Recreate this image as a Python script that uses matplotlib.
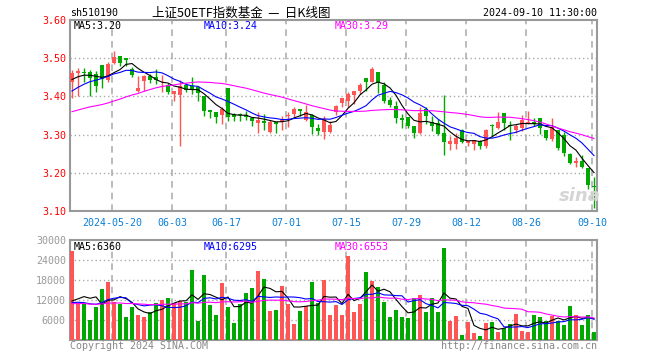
import numpy as np
import matplotlib
matplotlib.use("Agg")
import matplotlib.pyplot as plt

W, H = 660, 360

# daily OHLC, 2024-05-09 .. 2024-09-10 (88 sessions)
open_ = [3.439, 3.461, 3.463, 3.463, 3.459, 3.482, 3.444, 3.488, 3.506, 3.501,
         3.472, 3.415, 3.441, 3.453, 3.450, 3.421, 3.431, 3.406, 3.404, 3.431,
         3.428, 3.424, 3.400, 3.364, 3.359, 3.352, 3.422, 3.351, 3.355, 3.352,
         3.343, 3.330, 3.336, 3.306, 3.332, 3.334, 3.349, 3.354, 3.367, 3.339,
         3.351, 3.318, 3.308, 3.306, 3.360, 3.382, 3.389, 3.404, 3.415, 3.448,
         3.439, 3.463, 3.430, 3.390, 3.374, 3.343, 3.345, 3.323, 3.303, 3.368,
         3.334, 3.330, 3.304, 3.276, 3.275, 3.311, 3.279, 3.276, 3.283, 3.270,
         3.325, 3.318, 3.356, 3.324, 3.313, 3.318, 3.327, 3.332, 3.343, 3.311,
         3.289, 3.311, 3.300, 3.248, 3.225, 3.232, 3.213, 3.165]
high = [3.468, 3.475, 3.475, 3.468, 3.466, 3.482, 3.489, 3.518, 3.506, 3.501,
        3.476, 3.453, 3.457, 3.459, 3.472, 3.457, 3.434, 3.415, 3.443, 3.435,
        3.452, 3.428, 3.402, 3.364, 3.359, 3.371, 3.422, 3.356, 3.356, 3.362,
        3.343, 3.358, 3.354, 3.338, 3.332, 3.349, 3.358, 3.371, 3.367, 3.378,
        3.354, 3.327, 3.349, 3.335, 3.378, 3.397, 3.411, 3.413, 3.435, 3.448,
        3.478, 3.463, 3.437, 3.398, 3.389, 3.355, 3.345, 3.323, 3.372, 3.371,
        3.349, 3.340, 3.404, 3.296, 3.303, 3.314, 3.287, 3.286, 3.287, 3.314,
        3.329, 3.360, 3.356, 3.336, 3.327, 3.351, 3.362, 3.343, 3.343, 3.311,
        3.343, 3.311, 3.306, 3.252, 3.241, 3.246, 3.213, 3.189]
low = [3.397, 3.402, 3.439, 3.402, 3.412, 3.421, 3.437, 3.485, 3.479, 3.479,
       3.450, 3.412, 3.415, 3.434, 3.432, 3.412, 3.406, 3.389, 3.270, 3.411,
       3.406, 3.387, 3.349, 3.343, 3.330, 3.327, 3.336, 3.336, 3.336, 3.338,
       3.323, 3.304, 3.313, 3.304, 3.303, 3.311, 3.320, 3.346, 3.349, 3.336,
       3.301, 3.300, 3.288, 3.303, 3.351, 3.373, 3.373, 3.380, 3.406, 3.415,
       3.437, 3.409, 3.384, 3.372, 3.330, 3.318, 3.318, 3.292, 3.301, 3.327,
       3.310, 3.299, 3.246, 3.259, 3.262, 3.279, 3.269, 3.259, 3.262, 3.265,
       3.297, 3.314, 3.312, 3.287, 3.305, 3.309, 3.327, 3.323, 3.301, 3.285,
       3.283, 3.259, 3.244, 3.222, 3.215, 3.213, 3.158, 3.108]
close = [3.461, 3.466, 3.461, 3.448, 3.428, 3.446, 3.485, 3.504, 3.488, 3.496,
         3.457, 3.422, 3.454, 3.444, 3.444, 3.422, 3.411, 3.415, 3.428, 3.418,
         3.418, 3.409, 3.362, 3.359, 3.345, 3.367, 3.345, 3.345, 3.351, 3.347,
         3.336, 3.338, 3.330, 3.334, 3.329, 3.338, 3.350, 3.367, 3.362, 3.359,
         3.320, 3.310, 3.341, 3.326, 3.375, 3.397, 3.405, 3.413, 3.430, 3.439,
         3.472, 3.434, 3.389, 3.377, 3.343, 3.339, 3.323, 3.305, 3.357, 3.349,
         3.323, 3.301, 3.281, 3.283, 3.290, 3.281, 3.283, 3.285, 3.270, 3.311,
         3.322, 3.334, 3.330, 3.322, 3.322, 3.338, 3.332, 3.329, 3.318, 3.290,
         3.321, 3.265, 3.253, 3.225, 3.232, 3.215, 3.169, 3.162]
volume = [26700, 11200, 10900, 6000, 9900, 15400, 17400, 11500, 10800, 7000,
          9900, 7500, 6900, 8400, 11200, 12000, 12600, 11000, 11700, 11500,
          21000, 5700, 19500, 10500, 7500, 17100, 9900, 5000, 10700, 14100,
          15600, 20700, 18300, 8700, 9000, 16200, 10800, 4800, 8700, 10200,
          17400, 11200, 17900, 7500, 10500, 7500, 25200, 8400, 10800, 20400,
          17700, 15900, 11400, 6900, 9000, 6900, 6600, 12600, 13500, 8400,
          12600, 8400, 27600, 5700, 7200, 1500, 5400, 2100, 1200, 5000,
          5400, 2400, 3600, 4700, 7800, 2700, 2400, 7500, 6900, 5700,
          7200, 5700, 4600, 10200, 7500, 4500, 7500, 2400]

# sessions before the window (estimated from where the MA lines start)
warm_close = [3.34, 3.33, 3.33, 3.34, 3.35, 3.36, 3.35,
              3.34, 3.32, 3.31, 3.30, 3.29, 3.30, 3.31, 3.32, 3.34, 3.36,
              3.35, 3.36, 3.36, 3.37, 3.38, 3.38, 3.39, 3.40, 3.43,
              3.44, 3.45, 3.44]
warm_volume = [11000, 9500, 12500, 10000, 13000, 9000, 11500, 10500, 12000, 9500,
               11000, 10000, 12500, 9000, 11500, 10500, 11000, 9500, 10500, 11000,
               10000, 12000, 9500, 11500, 10500,
               8000, 7500, 8500, 7800]

tick_index = [7, 17, 26, 36, 46, 56, 66, 76, 87]
tick_labels = ["2024-05-20", "06-03", "06-17", "07-01", "07-15",
               "07-29", "08-12", "08-26", "09-10"]

price_ticks = [3.10, 3.20, 3.30, 3.40, 3.50, 3.60]
vol_ticks = [6000, 12000, 18000, 24000, 30000]

RED = "#ff5555"
GREEN = "#00a800"
GRID = "#aaaaaa"
MONO = "DejaVu Sans Mono"
FS = 7.2


def moving_avg(values, warm, n):
    full = np.array(warm + values, dtype=float)
    ma = np.convolve(full, np.ones(n) / n, mode="valid")
    return ma[-len(values):]


def ftext(x, y, s, **kw):
    # place text by pixel position in the 660x360 picture
    kw.setdefault("family", MONO)
    kw.setdefault("fontsize", FS)
    kw.setdefault("va", "center")
    fig.text(x / W, 1 - y / H, s, **kw)


fig = plt.figure(figsize=(6.6, 3.6), dpi=100)
fig.patch.set_facecolor("white")
ax = fig.add_axes([70 / W, 1 - 211 / H, 527 / W, 191 / H])
axv = fig.add_axes([70 / W, 1 - 340 / H, 527 / W, 100 / H])

n = len(close)
xs = np.arange(n)
o = np.array(open_)
c = np.array(close)
up = c >= o
colors = np.where(up, RED, GREEN)

# candles
ax.vlines(xs, low, high, colors=colors, lw=1.0, zorder=3)
body = np.maximum(np.abs(c - o), 0.0015)
ax.bar(xs, body, bottom=np.minimum(o, c), width=0.8, color=colors, lw=0, zorder=3)

ma5 = moving_avg(close, warm_close, 5)
ma10 = moving_avg(close, warm_close, 10)
ma30 = moving_avg(close, warm_close, 30)
ax.plot(xs, ma5, color="black", lw=0.8, zorder=4)
ax.plot(xs, ma10, color="#0000ff", lw=0.8, zorder=4)
ax.plot(xs, ma30, color="#ff00ff", lw=0.8, zorder=4)

# volume
axv.bar(xs, volume, width=0.8, color=colors, lw=0, zorder=3)
vma5 = moving_avg(volume, warm_volume, 5)
vma10 = moving_avg(volume, warm_volume, 10)
vma30 = moving_avg(volume, warm_volume, 30)
axv.plot(xs, vma5, color="black", lw=0.8, zorder=4)
axv.plot(xs, vma10, color="#0000ff", lw=0.8, zorder=4)
axv.plot(xs, vma30, color="#ff00ff", lw=0.8, zorder=4)

for a in (ax, axv):
    a.set_xlim(-0.33, 87.5)
    for i in tick_index:
        a.axvline(i - 0.33, color="#b0b0b0", lw=1.2, ls=(0, (4, 3)), zorder=1)
    for s in a.spines.values():
        s.set_color("#999999")
        s.set_linewidth(1.5)
    a.tick_params(length=0)

ax.set_ylim(3.10, 3.60)
for y in price_ticks[1:-1]:
    ax.axhline(y, color=GRID, lw=1, ls=(0, (1, 2)), zorder=1)
ax.set_yticks(price_ticks)
ax.set_yticklabels(["%.2f" % v for v in price_ticks], color="#ff0000",
                   family=MONO, fontsize=FS)
ax.tick_params(axis="y", pad=3)
ax.set_xticks([i - 0.33 for i in tick_index])
ax.set_xticklabels(tick_labels, color="#0b7fd6", family=MONO, fontsize=FS)
ax.tick_params(axis="x", pad=5)

axv.set_ylim(0, 30000)
for y in vol_ticks[:-1]:
    axv.axhline(y, color=GRID, lw=1, ls=(0, (1, 2)), zorder=1)
axv.set_yticks(vol_ticks)
axv.set_yticklabels([str(v) for v in vol_ticks], color="#999999",
                    family=MONO, fontsize=FS)
axv.tick_params(axis="y", pad=3)
axv.set_xticks([])

# header
ftext(70, 13, "sh510190", color="black")
ftext(152, 13, "上证50ETF指数基金  —  日K线图", family=["Noto Sans CJK SC", "DejaVu Sans"],
      fontsize=9, color="black")
ftext(597, 13, "2024-09-10 11:30:00", color="black", ha="right")

# MA legends
ftext(74, 26, "MA5:3.20", color="black")
ftext(204, 26, "MA10:3.24", color="#0000ff")
ftext(335, 26, "MA30:3.29", color="#ff00ff")
ftext(74, 247, "MA5:6360", color="black")
ftext(204, 247, "MA10:6295", color="#0000ff")
ftext(335, 247, "MA30:6553", color="#ff00ff")

# watermark and footer
ftext(580, 196, "sina", family="DejaVu Sans", fontsize=13, weight="bold",
      style="italic", color="#d5d5d5", ha="center")
ftext(70, 346, "Copyright 2024 SINA.COM", color="#888888")
ftext(597, 346, "http://finance.sina.com.cn", color="#888888", ha="right")

fig.savefig("out.png", dpi=100)
